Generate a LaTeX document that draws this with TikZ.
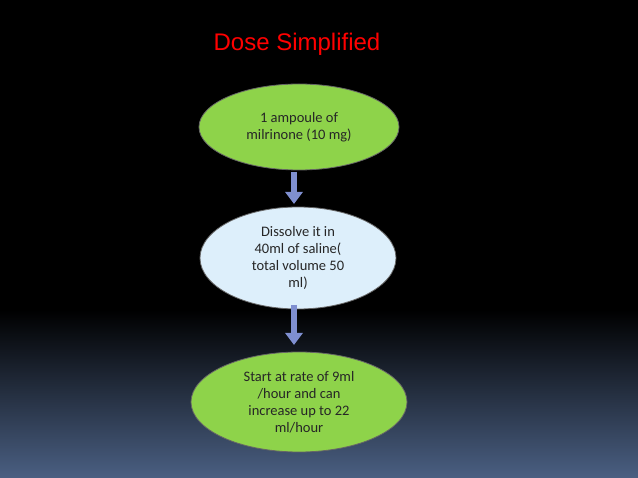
\documentclass[tikz,border=0pt]{standalone}
\usepackage{fontspec}
\setmainfont{Carlito}
\newfontfamily\titlefont{Liberation Sans}
\usetikzlibrary{shapes.geometric,arrows.meta}
\definecolor{grn}{HTML}{8ED34A}
\definecolor{lblue}{HTML}{DDEFFB}
\definecolor{arr}{HTML}{7F8FD0}
\definecolor{bot}{HTML}{4A5F82}
\tikzset{
 oval/.style={ellipse,draw=black!60,line width=0.8pt,align=center,font=\fontsize{14.5}{17}\selectfont,text=black!85,inner sep=0pt},
 flow/.style={-{Triangle[length=12pt,width=17pt]},line width=6pt,draw=arr}
}
\begin{document}
\begin{tikzpicture}[x=1pt,y=-1pt]
\useasboundingbox (0,0) rectangle (638,478);
\fill[black] (0,0) rectangle (638,478);
\shade[top color=black,bottom color=bot] (0,310) rectangle (638,478);
\node[text=red,font=\titlefont\fontsize{24}{28}\selectfont] (title) at (297,44) {Dose Simplified};
\node[oval,fill=grn,minimum width=200pt,minimum height=86pt] (a) at (299,127) {1 ampoule of\\milrinone (10 mg)};
\node[oval,fill=lblue,minimum width=196pt,minimum height=102pt] (b) at (298,258) {Dissolve it in\\40ml of saline(\\total volume 50\\ml)};
\node[oval,fill=grn,minimum width=216pt,minimum height=100pt] (c) at (299,402) {Start at rate of 9ml\\/hour and can\\increase up to 22\\ml/hour};
\draw[flow] (294,172) -- (294,204);
\draw[flow] (294,305) -- (294,345);
\end{tikzpicture}
\end{document}
